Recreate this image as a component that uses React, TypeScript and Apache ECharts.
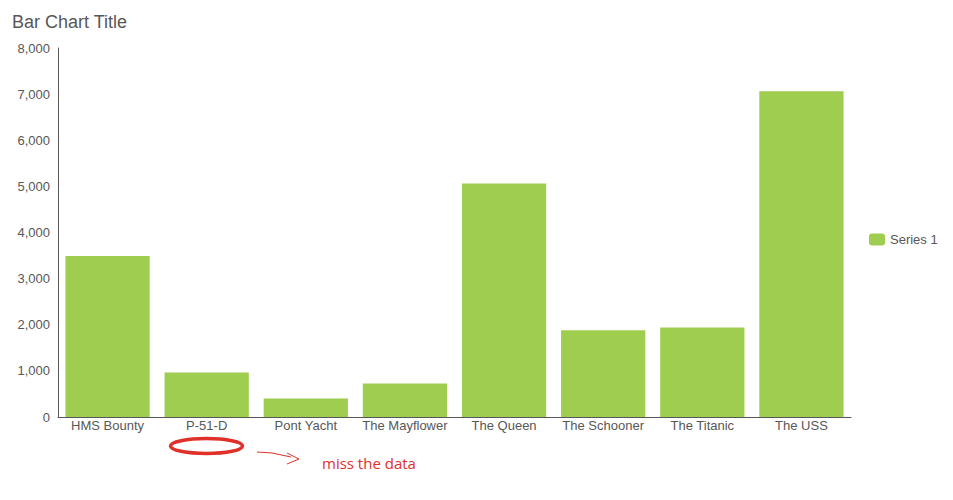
import React, { useEffect, useRef } from "react";
import * as echarts from "echarts";

const categories = [
  "HMS Bounty",
  "P-51-D",
  "Pont Yacht",
  "The Mayflower",
  "The Queen",
  "The Schooner",
  "The Titanic",
  "The USS",
];
const series1 = [3490, 965, 400, 725, 5065, 1880, 1940, 7065];
const seriesName = "Series 1";
const chartTitle = "Bar Chart Title";
const noteText = "miss the data";

const GREEN = "#9fcd4f";
const GREY = "#575757";
const RED = "#e0302a";
const FONT = "'Liberation Sans', Arial, sans-serif";

export default function App() {
  const ref = useRef<HTMLDivElement>(null);

  useEffect(() => {
    if (!ref.current) return;
    const chart = echarts.init(ref.current, undefined, { renderer: "svg" });
    chart.setOption({
      animation: false,
      backgroundColor: "#ffffff",
      textStyle: { fontFamily: FONT },
      title: {
        text: chartTitle,
        left: 7,
        top: 8,
        textStyle: { fontSize: 18, fontWeight: "normal", color: GREY, fontFamily: FONT },
      },
      legend: {
        orient: "vertical",
        left: 864,
        top: 228,
        icon: "roundRect",
        itemWidth: 16,
        itemHeight: 12,
        itemGap: 5,
        textStyle: { fontSize: 13, color: GREY, fontFamily: FONT },
        data: [seriesName],
      },
      grid: { left: 58, right: 102, top: 48, bottom: 83, containLabel: false },
      xAxis: {
        type: "category",
        data: categories,
        axisLine: { show: true, lineStyle: { color: GREY, width: 1 } },
        axisTick: { show: false },
        axisLabel: { color: GREY, fontSize: 13, margin: 2, fontFamily: FONT, interval: 0 },
        splitLine: { show: false },
      },
      yAxis: {
        type: "value",
        min: 0,
        max: 8000,
        interval: 1000,
        axisLine: { show: true, lineStyle: { color: GREY, width: 1 } },
        axisTick: { show: false },
        splitLine: { show: false },
        axisLabel: {
          color: GREY,
          fontSize: 13,
          margin: 8,
          fontFamily: FONT,
          formatter: (v: number) => v.toLocaleString("en-US"),
        },
      },
      series: [
        {
          name: seriesName,
          type: "bar",
          data: series1,
          barCategoryGap: "15%",
          itemStyle: { color: GREEN },
        },
      ],
      graphic: [
        {
          type: "ellipse",
          shape: { cx: 206.5, cy: 446, rx: 36, ry: 7.5 },
          style: { fill: "none", stroke: RED, lineWidth: 3.5 },
        },
        {
          type: "polyline",
          shape: { points: [[257, 452], [272, 453], [291, 457]] },
          style: { fill: "none", stroke: RED, lineWidth: 1 },
        },
        {
          type: "polyline",
          shape: { points: [[287, 453], [299, 459], [287, 464]] },
          style: { fill: "none", stroke: RED, lineWidth: 1 },
        },
        {
          type: "text",
          x: 322,
          y: 463,
          style: {
            text: noteText,
            fill: RED,
            font: "15px 'Open Sans', 'Noto Sans', sans-serif",
            textVerticalAlign: "middle",
          },
        },
      ],
    });
    return () => chart.dispose();
  }, []);

  return (
    <div
      ref={ref}
      style={{ position: "absolute", left: 0, top: 0, width: 953, height: 500 }}
    />
  );
}
